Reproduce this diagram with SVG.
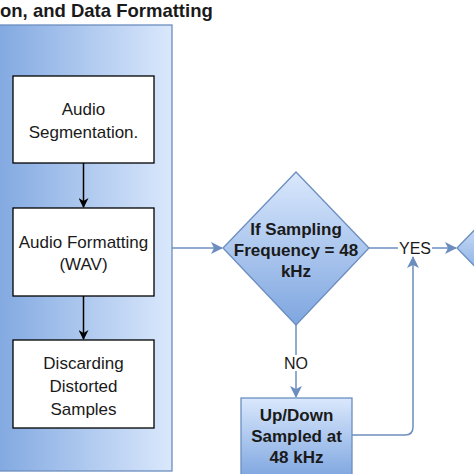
<svg xmlns="http://www.w3.org/2000/svg" width="474" height="474" viewBox="0 0 474 474">
<defs>
<linearGradient id="gC" x1="0" y1="0" x2="1" y2="0"><stop offset="0" stop-color="#7ea6e0"/><stop offset="1" stop-color="#dae8fc"/></linearGradient>
<linearGradient id="gV" x1="0" y1="0" x2="0" y2="1"><stop offset="0" stop-color="#dae8fc"/><stop offset="1" stop-color="#7ea6e0"/></linearGradient>
<marker id="ab" markerWidth="10" markerHeight="10" refX="9" refY="5" orient="auto" markerUnits="userSpaceOnUse"><path d="M0,0 L10,5 L0,10 L3,5 Z" fill="#000"/></marker>
<marker id="au" markerWidth="12" markerHeight="12" refX="11" refY="6" orient="auto" markerUnits="userSpaceOnUse"><path d="M0,0 L12,6 L0,12 L3,6 Z" fill="#6c8ebf"/></marker>
<style>
.t{font-family:"Liberation Sans",Arial,sans-serif;font-size:17px;fill:#1a1a1a;text-anchor:middle}
.b{font-family:"Liberation Sans",Arial,sans-serif;font-size:17px;font-weight:bold;fill:#1a1a1a;text-anchor:middle}
.l{font-family:"Liberation Sans",Arial,sans-serif;font-size:16px;fill:#1a1a1a;text-anchor:middle}
.box{fill:#fff;stroke:#000;stroke-width:1.3}
.blue{stroke:#6c8ebf;stroke-width:1.3}
.c{fill:none;stroke:#6c8ebf;stroke-width:1.5}
.k{fill:none;stroke:#000;stroke-width:1.5}
</style>
</defs>
<rect width="474" height="474" fill="#fff"/>
<text x="0" y="17" style="font-family:'Liberation Sans',Arial,sans-serif;font-size:18.5px;font-weight:bold;fill:#1a1a1a">on, and Data Formatting</text>
<g id="container"><rect x="-10" y="25" width="182" height="446" fill="url(#gC)" class="blue"/></g>
<g id="n1"><rect x="13" y="76" width="141" height="87" class="box"/><text class="t" x="83.5" y="115">Audio</text><text class="t" x="83.5" y="138">Segmentation.</text></g>
<g id="n2"><rect x="13" y="208" width="141" height="88" class="box"/><text class="t" x="83.5" y="248">Audio Formatting</text><text class="t" x="83.5" y="270">(WAV)</text></g>
<g id="n3"><rect x="13" y="340" width="141" height="88" class="box"/><text class="t" x="83.5" y="369">Discarding</text><text class="t" x="83.5" y="392">Distorted</text><text class="t" x="83.5" y="415">Samples</text></g>
<g id="d1"><path d="M296,172 L369,248 L296,325 L223,248 Z" fill="url(#gV)" class="blue"/><text class="b" x="296" y="235">If Sampling</text><text class="b" x="296" y="256">Frequency = 48</text><text class="b" x="296" y="277">kHz</text></g>
<g id="d2"><path d="M457,248 L490,214 L523,248 L490,282 Z" fill="url(#gV)" class="blue"/></g>
<g id="n4"><rect x="241" y="398" width="111" height="80" fill="url(#gV)" class="blue"/><text class="b" x="296.5" y="421">Up/Down</text><text class="b" x="296.5" y="442">Sampled at</text><text class="b" x="296.5" y="463">48 kHz</text></g>
<g id="connectors">
<line x1="83.5" y1="163" x2="83.5" y2="207" class="k" marker-end="url(#ab)"/>
<line x1="83.5" y1="296" x2="83.5" y2="339" class="k" marker-end="url(#ab)"/>
<line x1="172" y1="248" x2="222" y2="248" class="c" marker-end="url(#au)"/>
<line x1="369" y1="248" x2="456" y2="248" class="c" marker-end="url(#au)"/>
<line x1="296" y1="325" x2="296" y2="397" class="c" marker-end="url(#au)"/>
<path d="M352,435 L405,435 Q413,435 413,427 L413,257" class="c" marker-end="url(#au)"/>
<rect x="398" y="240" width="34" height="16" fill="#fff"/>
<text class="l" x="415" y="254">YES</text>
<rect x="284" y="355" width="24" height="16" fill="#fff"/>
<text class="l" x="296" y="369">NO</text>
</g>
</svg>
